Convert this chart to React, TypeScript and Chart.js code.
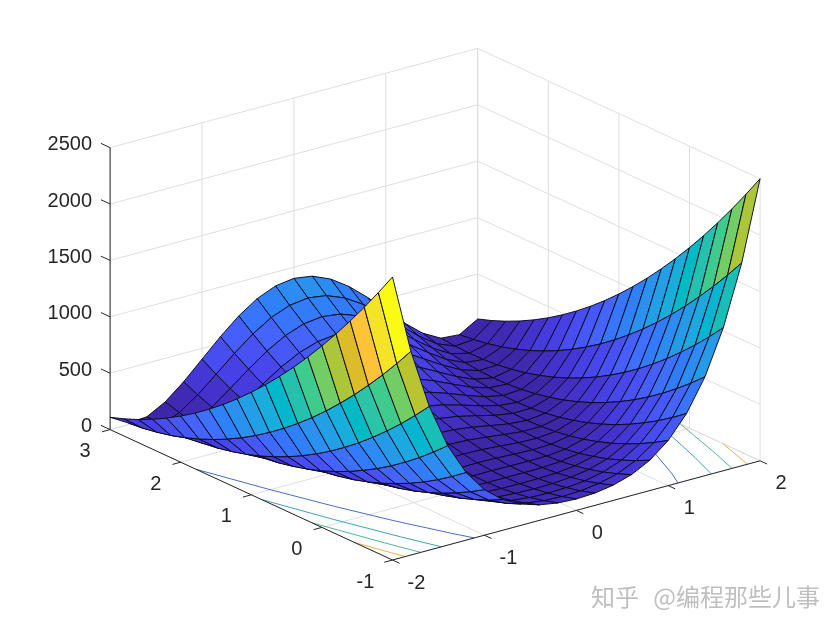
import React, { useEffect, useRef } from "react";
import { Chart, registerables } from "chart.js";

Chart.register(...registerables);

const xValues = [-2, -1.8, -1.6, -1.4, -1.2, -1, -0.8, -0.6, -0.4, -0.2, 0, 0.2, 0.4, 0.6, 0.8, 1, 1.2, 1.4, 1.6, 1.8, 2];
const yValues = [-1, -0.8, -0.6, -0.4, -0.2, 0, 0.2, 0.4, 0.6, 0.8, 1, 1.2, 1.4, 1.6, 1.8, 2, 2.2, 2.4, 2.6, 2.8, 3];

// Surface heights, one row per y value, one column per x value.
const zRows = [
  [2509, 1806, 1274, 882, 600, 404, 272, 188, 137, 110, 101, 109, 135, 185, 269, 400, 595, 876, 1268, 1798, 2501],
  [2313, 1640, 1136, 768, 507, 328, 211, 137, 94, 72, 65, 71, 93, 135, 207, 324, 502, 762, 1129, 1633, 2305],
  [2125, 1482, 1005, 661, 421, 260, 157, 95, 60, 42, 37, 42, 58, 92, 154, 256, 416, 656, 999, 1475, 2117],
  [1945, 1333, 883, 563, 343, 200, 111, 60, 33, 21, 17, 20, 32, 58, 108, 196, 339, 557, 877, 1326, 1937],
  [1773, 1191, 769, 472, 274, 148, 74, 34, 15, 7, 5, 6, 13, 32, 71, 144, 269, 467, 762, 1184, 1765],
  [1609, 1058, 662, 390, 212, 104, 44, 16, 5, 2, 1, 1, 3, 13, 41, 100, 207, 384, 656, 1050, 1601],
  [1453, 932, 564, 316, 159, 68, 23, 5, 2, 4, 5, 3, 1, 3, 19, 64, 154, 310, 557, 925, 1445],
  [1305, 814, 473, 249, 113, 40, 9, 3, 8, 14, 17, 14, 6, 0, 6, 36, 108, 244, 467, 807, 1297],
  [1165, 705, 391, 191, 75, 20, 3, 8, 21, 33, 37, 32, 20, 6, 0, 16, 71, 185, 385, 698, 1157],
  [1033, 603, 317, 140, 46, 8, 6, 22, 43, 59, 65, 58, 41, 20, 3, 4, 41, 135, 310, 596, 1025],
  [909, 510, 250, 98, 24, 4, 16, 44, 73, 94, 101, 93, 71, 41, 13, 0, 19, 92, 244, 502, 901],
  [793, 424, 192, 64, 11, 8, 35, 73, 110, 136, 145, 135, 109, 71, 31, 4, 6, 58, 185, 417, 785],
  [685, 346, 141, 37, 5, 20, 61, 111, 155, 186, 197, 186, 154, 108, 58, 16, 0, 32, 135, 339, 677],
  [585, 277, 99, 19, 7, 40, 95, 156, 209, 245, 257, 244, 208, 154, 92, 36, 3, 13, 93, 269, 577],
  [493, 215, 65, 8, 18, 68, 138, 210, 271, 311, 325, 310, 269, 208, 135, 64, 13, 3, 58, 208, 485],
  [409, 162, 38, 6, 36, 104, 188, 272, 341, 386, 401, 385, 339, 269, 185, 100, 31, 0, 32, 154, 401],
  [333, 116, 20, 12, 63, 148, 247, 341, 418, 468, 485, 467, 417, 339, 243, 144, 58, 6, 13, 109, 325],
  [265, 78, 9, 25, 97, 200, 313, 419, 504, 558, 577, 558, 502, 416, 310, 196, 92, 20, 3, 71, 257],
  [205, 49, 7, 47, 139, 260, 387, 504, 597, 657, 677, 656, 596, 502, 384, 256, 135, 41, 1, 42, 197],
  [153, 27, 13, 76, 190, 328, 470, 598, 699, 763, 785, 762, 697, 596, 467, 324, 185, 71, 6, 20, 145],
  [109, 14, 26, 114, 248, 404, 560, 700, 809, 878, 901, 877, 807, 697, 557, 400, 243, 108, 19, 6, 101],
];

const xTicks = [-2, -1, 0, 1, 2];
const yTicks = [-1, 0, 1, 2, 3];
const zTicks = [0, 500, 1000, 1500, 2000, 2500];

// Floor contours: colour of each level and the [x, y] points of each line.
const contourColors = ["#4a6cc0", "#3c9fc0", "#4fb78f", "#e8b24e"];
const contourLeft = [
  [[-2, 1.784], [-1.8, 1.022], [-1.6, 0.339], [-1.4, -0.263], [-1.2, -0.785], [-1.11, -1]],
  [[-2, 0.852], [-1.8, 0.09], [-1.6, -0.592], [-1.468, -1]],
  [[-2, 0.139], [-1.8, -0.623], [-1.7, -0.974], [-1.69, -1]],
  [[-2, -0.462], [-1.9, -0.853], [-1.86, -1]],
];
const contourRight = [
  [[2, 1.766], [1.8, 1.005], [1.6, 0.325], [1.4, -0.276], [1.2, -0.796], [1.107, -1]],
  [[2, 0.839], [1.8, 0.079], [1.6, -0.602], [1.47, -1]],
  [[2, 0.128], [1.8, -0.632], [1.7, -0.98], [1.695, -1]],
  [[2, -0.47], [1.9, -0.861], [1.86, -1]],
];

const watermarkBrand = "知乎";
const watermarkAuthor = "@编程那些儿事";

const parula = [
  [.2422,.1504,.6603],[.2504,.1650,.7076],[.2578,.1818,.7511],[.2647,.1978,.7952],[.2706,.2147,.8364],[.2751,.2342,.8710],[.2783,.2559,.8991],[.2803,.2782,.9221],
  [.2813,.3006,.9414],[.2810,.3228,.9579],[.2795,.3447,.9717],[.2760,.3667,.9829],[.2699,.3892,.9906],[.2602,.4123,.9952],[.2440,.4358,.9988],[.2206,.4603,.9973],
  [.1963,.4847,.9892],[.1834,.5074,.9798],[.1786,.5289,.9682],[.1764,.5499,.9520],[.1687,.5703,.9359],[.1540,.5902,.9218],[.1460,.6091,.9079],[.1380,.6276,.8973],
  [.1248,.6459,.8883],[.1113,.6635,.8763],[.0952,.6798,.8598],[.0689,.6948,.8394],[.0297,.7082,.8163],[.0036,.7203,.7917],[.0067,.7312,.7660],[.0433,.7411,.7394],
  [.0964,.7500,.7120],[.1408,.7584,.6842],[.1717,.7670,.6554],[.1938,.7758,.6251],[.2161,.7843,.5923],[.2470,.7918,.5567],[.2906,.7973,.5188],[.3406,.8008,.4789],
  [.3909,.8029,.4354],[.4456,.8024,.3909],[.5044,.7993,.3480],[.5616,.7942,.3045],[.6174,.7876,.2612],[.6720,.7793,.2227],[.7242,.7698,.1910],[.7738,.7598,.1646],
  [.8203,.7498,.1535],[.8634,.7406,.1596],[.9035,.7330,.1774],[.9393,.7288,.2100],[.9728,.7298,.2394],[.9956,.7434,.2371],[.9970,.7659,.2199],[.9952,.7893,.2028],
  [.9892,.8136,.1885],[.9786,.8386,.1766],[.9676,.8639,.1643],[.9610,.8890,.1537],[.9597,.9135,.1423],[.9628,.9373,.1265],[.9691,.9606,.1064],[.9769,.9839,.0805],
];

const zMax = 2509;

function colorFor(z: number) {
  const i = Math.min(63, Math.floor((z / zMax) * 64));
  const c = parula[i];
  return `rgb(${Math.round(c[0] * 255)},${Math.round(c[1] * 255)},${Math.round(c[2] * 255)})`;
}

// Oblique view of the axes box onto the chart's flat x/y plane.
function project(x: number, y: number, z: number) {
  return {
    x: 392.5 + 91.9 * (x + 2) - 70.6 * (y + 1),
    y: 560 - 24.8 * (x + 2) - 32.6 * (y + 1) - 0.1128 * z,
  };
}

function lineDs(points: { x: number; y: number }[], color: string, width: number) {
  return {
    data: points,
    showLine: true,
    fill: false,
    borderColor: color,
    borderWidth: width,
    pointRadius: 0,
    pointHoverRadius: 0,
    tension: 0,
    clip: false,
  };
}

function buildDatasets() {
  const front: any[] = [];
  const axisColor = "#262626";
  const gridColor = "#dedede";

  const floor: any[] = [];
  const walls: any[] = [];
  for (const t of xTicks) {
    walls.push(lineDs([project(t, 3, 0), project(t, 3, 2500)], gridColor, 1));
    walls.push(lineDs([project(t, -1, 0), project(t, 3, 0)], gridColor, 1));
  }
  for (const t of yTicks) {
    walls.push(lineDs([project(2, t, 0), project(2, t, 2500)], gridColor, 1));
    walls.push(lineDs([project(-2, t, 0), project(2, t, 0)], gridColor, 1));
  }
  for (const t of zTicks) {
    walls.push(lineDs([project(-2, 3, t), project(2, 3, t), project(2, -1, t)], gridColor, 1));
  }

  contourColors.forEach((color, i) => {
    floor.push(lineDs(contourLeft[i].map((p) => project(p[0], p[1], 0)), color, 1));
    floor.push(lineDs(contourRight[i].map((p) => project(p[0], p[1], 0)), color, 1));
  });

  const axes: any[] = [];
  axes.push(lineDs([project(-2, 3, 0), project(-2, 3, 2500)], axisColor, 1));
  axes.push(lineDs([project(-2, 3, 0), project(-2, -1, 0)], axisColor, 1));
  axes.push(lineDs([project(-2, -1, 0), project(2, -1, 0)], axisColor, 1));
  for (const t of zTicks) axes.push(lineDs([project(-2, 3, t), project(-2, 3.13, t)], axisColor, 1));
  for (const t of yTicks) axes.push(lineDs([project(-2, t, 0), project(-2.09, t, 0)], axisColor, 1));
  for (const t of xTicks) axes.push(lineDs([project(t, -1, 0), project(t, -1.1, 0)], axisColor, 1));

  // Surface cells, nearest first: Chart.js paints the first dataset last.
  for (let j = 0; j < yValues.length - 1; j++) {
    for (let i = 0; i < xValues.length - 1; i++) {
      const corners = [
        project(xValues[i], yValues[j], zRows[j][i]),
        project(xValues[i + 1], yValues[j], zRows[j][i + 1]),
        project(xValues[i + 1], yValues[j + 1], zRows[j + 1][i + 1]),
        project(xValues[i], yValues[j + 1], zRows[j + 1][i]),
      ];
      corners.push(corners[0]);
      front.push({
        data: corners,
        showLine: true,
        fill: "shape",
        backgroundColor: colorFor(zRows[j][i]),
        borderColor: "#0a0a1e",
        borderWidth: 0.95,
        pointRadius: 0,
        pointHoverRadius: 0,
        tension: 0,
        clip: false,
      });
    }
  }
  return [...front, ...axes, ...floor, ...walls];
}

const labelsPlugin = {
  id: "axisText",
  afterDraw(chart: any) {
    const { ctx, scales } = chart;
    const place = (p: { x: number; y: number }, dx: number, dy: number, text: string, align: CanvasTextAlign) => {
      ctx.textAlign = align;
      ctx.fillText(text, scales.x.getPixelForValue(p.x) + dx, scales.y.getPixelForValue(p.y) + dy);
    };
    ctx.save();
    ctx.font = '20px "Liberation Sans", Arial, sans-serif';
    ctx.fillStyle = "#262626";
    ctx.textBaseline = "middle";
    for (const t of zTicks) place(project(-2, 3, t), -18, -3, String(t), "right");
    for (const t of yTicks) place(project(-2, t, 0), t < 0 ? -27 : -25, 22, String(t), "center");
    for (const t of xTicks) place(project(t, -1, 0), t < 0 ? 24 : 21, 23, String(t), "center");
    ctx.font = '24px "Noto Sans CJK SC", sans-serif';
    const ink = [
      ["rgba(255,255,255,0.9)", 1, 1],
      ["rgba(175,175,175,0.8)", 0, 0],
    ] as const;
    for (const [style, ox, oy] of ink) {
      ctx.fillStyle = style;
      ctx.textAlign = "left";
      ctx.fillText(watermarkBrand, 591 + ox, 597 + oy);
      ctx.textAlign = "right";
      ctx.fillText(watermarkAuthor, 820 + ox, 597 + oy);
    }
    ctx.restore();
  },
};

export default function App() {
  const ref = useRef<HTMLCanvasElement | null>(null);
  useEffect(() => {
    const chart = new Chart(ref.current as HTMLCanvasElement, {
      type: "scatter",
      data: { datasets: buildDatasets() as any },
      options: {
        responsive: false,
        animation: false,
        events: [],
        layout: { padding: 0 },
        plugins: { legend: { display: false }, tooltip: { enabled: false }, title: { display: false } },
        scales: {
          x: { type: "linear", min: 0, max: 840, display: false },
          y: { type: "linear", min: 0, max: 630, reverse: true, display: false },
        },
      },
      plugins: [labelsPlugin],
    } as any);
    return () => chart.destroy();
  }, []);
  return (
    <div style={{ position: "absolute", left: 0, top: 0, width: 840, height: 630, background: "#fff" }}>
      <canvas ref={ref} width={840} height={630} style={{ display: "block" }} />
    </div>
  );
}
